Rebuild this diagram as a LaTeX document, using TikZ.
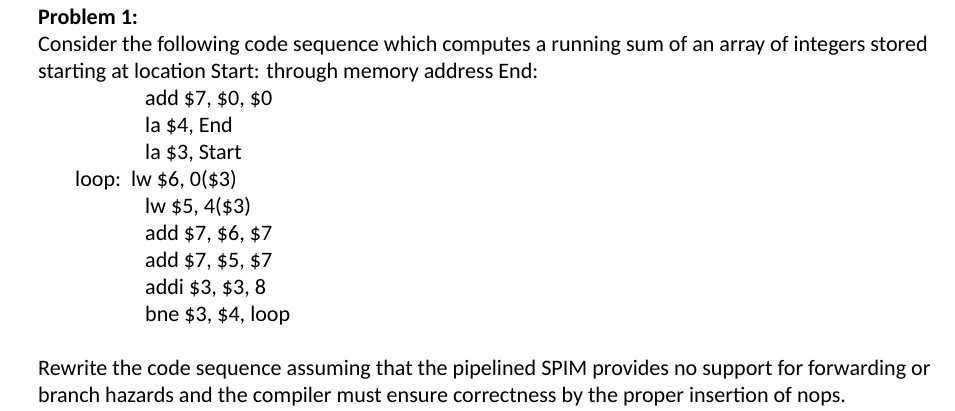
\documentclass[tikz,border=0pt]{standalone}
\usepackage{fontspec}
\setmainfont{Carlito}
\begin{document}
\begin{tikzpicture}[x=1pt,y=-1pt,txt/.style={anchor=base west,inner sep=0pt,font=\fontsize{22.1}{26}\selectfont}]
\useasboundingbox (0,0) rectangle (955,411);
\node[txt,font=\fontsize{22.1}{26}\selectfont\bfseries] (t0) at (38,25) {Problem 1:};
\node[txt] (t1) at (38,52) {Consider the following code sequence which computes a running sum of an array of integers stored};
\node[txt] (t2) at (38,79) {starting at location Start: through memory address End:};
\node[txt] (c1) at (145,106) {add \$7, \$0, \$0};
\node[txt] (c2) at (145,133) {la \$4, End};
\node[txt] (c3) at (145,160) {la \$3, Start};
\node[txt] (c4) at (75,187) {loop:\ \ lw \$6, 0(\$3)};
\node[txt] (c5) at (145,214) {lw \$5, 4(\$3)};
\node[txt] (c6) at (145,241) {add \$7, \$6, \$7};
\node[txt] (c7) at (145,268) {add \$7, \$5, \$7};
\node[txt] (c8) at (145,295) {addi \$3, \$3, 8};
\node[txt] (c9) at (145,322) {bne \$3, \$4, loop};
\node[txt] (p1) at (38,375) {Rewrite the code sequence assuming that the pipelined SPIM provides no support for forwarding or};
\node[txt] (p2) at (38,402) {branch hazards and the compiler must ensure correctness by the proper insertion of nops.};
\end{tikzpicture}
\end{document}
